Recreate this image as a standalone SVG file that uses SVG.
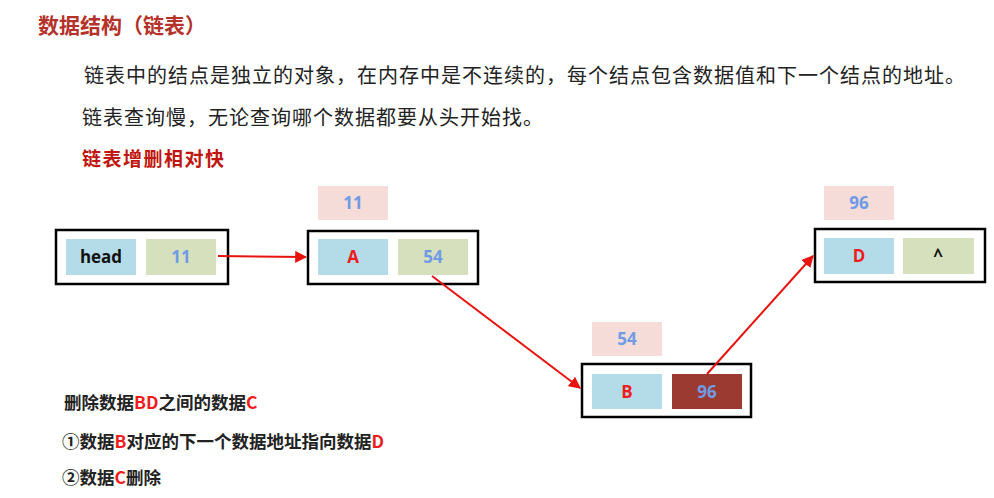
<svg xmlns="http://www.w3.org/2000/svg" width="994" height="498" viewBox="0 0 994 498">
<defs>
<style>
text{font-family:"Noto Sans CJK SC","Liberation Sans",sans-serif}
.outer{fill:#fff;stroke:#000;stroke-width:2.5}
.blue{fill:#b4dbe8}.green{fill:#d6e0bc}.pink{fill:#f5dcd8}.dark{fill:#9b3a30}
.v{font-family:"Open Sans","Liberation Sans",sans-serif;font-weight:bold;font-size:17px;text-anchor:middle}
.num{fill:#6f9be6}.red{fill:#ee1c1c}.blk{fill:#111}
.c{stroke:#e8130f;stroke-width:2;fill:none;marker-end:url(#ah)}
.body{font-size:20px;fill:#222;letter-spacing:1px}
.note{font-size:17.5px;font-weight:bold;fill:#222}
</style>
<marker id="ah" viewBox="0 0 10 10" refX="9" refY="5" markerWidth="6" markerHeight="6" orient="auto"><path d="M0,0L10,5L0,10z" fill="#e8130f"/></marker>
</defs>
<text x="38" y="33" font-size="21" font-weight="bold" fill="#b5322a">数据结构（链表）</text>
<text x="84" y="83" class="body">链表中的结点是独立的对象，在内存中是不连续的，每个结点包含数据值和下一个结点的地址。</text>
<text x="82" y="125" class="body">链表查询慢，无论查询哪个数据都要从头开始找。</text>
<text x="82" y="166" font-size="19" font-weight="bold" fill="#c0160f" letter-spacing="1.5">链表增删相对快</text>
<g id="head"><rect class="outer" x="56" y="230" width="172" height="54"/><rect class="blue" x="66" y="239" width="70" height="36"/><rect class="green" x="146" y="239" width="70" height="36"/><text class="v blk" x="101" y="263">head</text><text class="v num" x="181" y="263">11</text></g>
<g id="nodeA"><rect class="pink" x="318" y="186" width="70" height="34"/><text class="v num" x="353" y="209">11</text><rect class="outer" x="308" y="231" width="170" height="53"/><rect class="blue" x="318" y="239" width="70" height="36"/><rect class="green" x="398" y="239" width="70" height="36"/><text class="v red" x="353" y="263">A</text><text class="v num" x="433" y="263">54</text></g>
<g id="nodeB"><rect class="pink" x="592" y="322" width="70" height="34"/><text class="v num" x="627" y="345">54</text><rect class="outer" x="582" y="364" width="169" height="53"/><rect class="blue" x="592" y="374" width="70" height="35"/><rect class="dark" x="672" y="374" width="70" height="35"/><text class="v red" x="627" y="398">B</text><text class="v num" x="707" y="398">96</text></g>
<g id="nodeD"><rect class="pink" x="824" y="186" width="70" height="34"/><text class="v num" x="859" y="209">96</text><rect class="outer" x="815" y="229" width="170" height="53"/><rect class="blue" x="824" y="238" width="70" height="36"/><rect class="green" x="903" y="238" width="71" height="36"/><text class="v red" x="859" y="262">D</text><text class="v blk" x="938" y="262">^</text></g>
<g id="connectors"><line class="c" x1="218" y1="256" x2="306" y2="257"/><line class="c" x1="432" y1="276" x2="580" y2="388"/><line class="c" x1="707" y1="374" x2="813" y2="256"/></g>
<g id="notes">
<text x="64" y="409" class="note">删除数据<tspan fill="#ee1c1c">BD</tspan>之间的数据<tspan fill="#ee1c1c">C</tspan></text>
<text x="62" y="448" class="note">①数据<tspan fill="#ee1c1c">B</tspan>对应的下一个数据地址指向数据<tspan fill="#ee1c1c">D</tspan></text>
<text x="62" y="484" class="note">②数据<tspan fill="#ee1c1c">C</tspan>删除</text>
</g>
</svg>
